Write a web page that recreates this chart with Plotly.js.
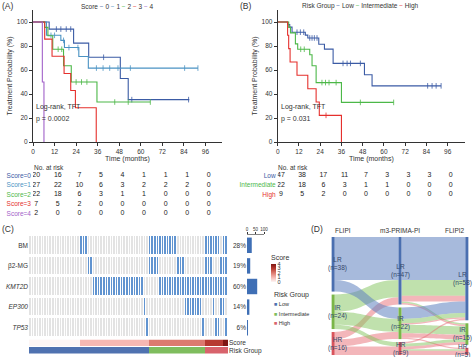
<!DOCTYPE html>
<html><head><meta charset="utf-8">
<script src="https://cdn.plot.ly/plotly-3.0.1.min.js"></script>
<style>html,body{margin:0;padding:0;background:#fff}#chart{width:474px;height:357px}</style>
</head><body><div id="chart"></div>
<script>
const W=474,H=357;
const px=v=>v/W, py=v=>1-v/H;
const FONT='Liberation Sans, Arial, sans-serif';
const TXT='#333';

// ---------- Panel A : KM by score ----------
const scoreGroups=['0','1','2','3','4'];
const scoreColors=['#3b5ba5','#4b93c3','#4cb848','#e5302d','#a262c9'];
const kmA_time=[
 [0,9,22.6,31,48.6,53,87],
 [0,7.5,15.5,17.5,25.5,30.8,91.8],
 [0,6.5,8.3,11,17,21.3,35.6,65.3],
 [0,6.5,10.6,17.3,21,23.6,35.2],
 [0,5.2,6.1]];
const kmA_surv=[
 [100,94.1,82.4,70.6,52.9,35.3,35.3],
 [100,88.9,84.7,78.7,71.2,61.6,61.6],
 [100,95.5,88.6,77.3,63.6,50,33.3,33.3],
 [100,85.7,71.4,57.1,42.9,28.6,0],
 [100,50,0]];
const kmA_cens=[
 [13,15.5,18.5,21,39.3,55,86.6],
 [10,12,17,20,25,35.3,39,42.7,47.3,54.2,84.4,91.8],
 [14,16,24,27,30,45.5,53,65.3],
 [],[]];
const atRiskTimes=[0,12,24,36,48,60,72,84,96];
const atRiskA=[[20,16,7,5,4,1,1,1,0],[27,22,10,6,3,2,2,2,0],[22,18,6,3,1,1,0,0,0],[7,5,2,0,0,0,0,0,0],[2,0,0,0,0,0,0,0,0]];

// ---------- Panel B : KM by risk group ----------
const riskGroups=['Low','Intermediate','High'];
const riskColors=['#3b5ba5','#4cb848','#e5302d'];
const kmB_time=[
 [0,5.6,6.8,8.1,15.6,17,23.2,26.4,31.3,49,53.3,92.3],
 [0,6.2,7.2,10,11.3,18.1,19.4,21.7,36,65.5],
 [0,5.6,6.2,7,10.9,17,21.7,23.5,36]];
const kmB_surv=[
 [100,97.9,95.7,91.5,89.1,86.7,81.5,77.4,65.5,56.1,46.8,46.8],
 [100,95.5,90.9,81.8,77.3,72.7,63.6,49.5,33,33],
 [100,88.9,77.8,66.7,55.6,44.4,33.3,22.2,0]];
const kmB_cens=[
 [10.9,12.8,14.7,18.1,19.4,20.7,22.2,36.9,39.2,41.1,46.7,84.7,87.2,89.5,92.3],
 [13,15,25,27,29,33,46.7,65.5],
 [27.3]];
const atRiskB=[[47,38,17,11,7,3,3,3,0],[22,18,6,3,1,1,0,0,0],[9,5,2,0,0,0,0,0,0]];

// ---------- Panel C : oncoprint ----------
const genes=['BM','β2-MG','KMT2D','EP300','TP53'];
const geneItalic=[false,false,true,true,true];
const nPatients=78;
const mutBM=[20,21,22,47,48,49,50,51,52,53,54,55,56,57,69,70,71,72,73,74,76,77];
const mutB2MG=[23,24,47,48,49,50,58,59,60,69,70,71,75,76,77];
const mutKMT2D=[25,26,27,28,29,30,31,32,33,34,35,36,37,38,39,40,41,42,43,44,51,52,53,54,55,56,57,58,59,60,61,62,63,64,65,66,67,68,69,70,71,72,73,74,75,76,77];
const mutEP300=[45,61,62,63,64,65,66,67,72,75,76];
const mutTP53=[46,68,73,74,77];
const scoreColorscale=[[0,'#fdf6f5'],[0.25,'#f5b8b3'],[0.5,'#dc7a6f'],[0.75,'#b73a31'],[1,'#7f1611']];
const riskBarColors=['#4f72b0','#7fbd5e','#d8636c'];
const riskOfScore=[0,0,1,2,2];

// ---------- Panel D : alluvial ----------
const stages=['FLIPI','m3-PRIMA-PI','FLIPI2'];
const levels=['LR','IR','HR'];
const levelNode=['#4a6fb0','#7ab648','#d9545c'];
const levelFlow=['rgba(95,130,192,0.55)','rgba(130,196,92,0.5)','rgba(232,110,118,0.5)'];
const pathFLIPI =['LR','IR','IR','HR','HR','LR','IR','IR','HR','HR','HR','IR','IR','HR','HR','HR'];
const pathM3    =['LR','LR','LR','LR','LR','IR','IR','IR','IR','IR','IR','HR','HR','HR','HR','HR'];
const pathFLIPI2=['LR','LR','IR','LR','IR','LR','LR','IR','LR','IR','HR','IR','HR','LR','IR','HR'];
const pathN     =[30,11,1,4,1,8,3,6,1,3,1,2,1,1,2,3];

// ================= build =================
const traces=[], annotations=[];
function survAt(t,s,x){let v=s[0];for(let i=0;i<t.length;i++){if(t[i]<=x)v=s[i];}return v;}
function addKM(times,survs,cens,colors,xa,ya){
  times.forEach((t,i)=>{
    traces.push({type:'scatter',mode:'lines',x:t,y:survs[i],xaxis:xa,yaxis:ya,
      line:{shape:'hv',color:colors[i],width:1.1},hoverinfo:'skip'});
    if(cens[i].length) traces.push({type:'scatter',mode:'markers',x:cens[i],
      y:cens[i].map(c=>survAt(t,survs[i],c)),xaxis:xa,yaxis:ya,
      marker:{symbol:'line-ns-open',size:4,color:colors[i],line:{width:0.8,color:colors[i]}},hoverinfo:'skip'});
  });
}
addKM(kmA_time,kmA_surv,kmA_cens,scoreColors,'x','y');
addKM(kmB_time,kmB_surv,kmB_cens,riskColors,'x2','y2');

function addTable(rows,xa,ya){
  rows.forEach((r,i)=>traces.push({type:'scatter',mode:'text',x:atRiskTimes,y:atRiskTimes.map(()=>i),
    text:r.map(String),textfont:{size:7,color:'#222',family:FONT},xaxis:xa,yaxis:ya,hoverinfo:'skip'}));
}
addTable(atRiskA,'x5','y5');
addTable(atRiskB,'x6','y6');

// oncoprint
const muts=[mutBM,mutB2MG,mutKMT2D,mutEP300,mutTP53];
const zMut=muts.map(m=>{const r=new Array(nPatients).fill(0);m.forEach(j=>r[j]=1);return r;});
const scores=[];for(let j=0;j<nPatients;j++){scores.push(zMut.reduce((a,r)=>a+r[j],0));}
const risks=scores.map(s=>riskOfScore[s]);
const cols=[...Array(nPatients).keys()];
traces.push({type:'heatmap',z:zMut,x:cols,y:[0,1,2,3,4],xaxis:'x3',yaxis:'y3',zmin:0,zmax:1,
  colorscale:[[0,'#e3e3e3'],[1,'#6194d0']],showscale:false,xgap:1,ygap:3,hoverinfo:'skip'});
traces.push({type:'heatmap',z:[scores],x:cols,y:[0],xaxis:'x3',yaxis:'y4',zmin:0,zmax:4,
  colorscale:scoreColorscale,hoverinfo:'skip',showscale:true,
  colorbar:{x:px(271),xanchor:'left',y:py(252),yanchor:'top',len:30,lenmode:'pixels',thickness:5,
   thicknessmode:'pixels',outlinewidth:0,xpad:0,ypad:0,tickvals:[0,1,2,3,4],ticks:'',
   tickfont:{size:5.5,color:TXT,family:FONT},title:{text:'Score',side:'top',font:{size:7,color:TXT,family:FONT}}}});
traces.push({type:'heatmap',z:[risks],x:cols,y:[0],xaxis:'x3',yaxis:'y8',zmin:0,zmax:2,
  colorscale:[[0,riskBarColors[0]],[0.333,riskBarColors[0]],[0.334,riskBarColors[1]],[0.666,riskBarColors[1]],[0.667,riskBarColors[2]],[1,riskBarColors[2]]],
  showscale:false,hoverinfo:'skip'});
const pct=muts.map(m=>Math.round(m.length/nPatients*100));
traces.push({type:'bar',orientation:'h',x:pct,y:[0,1,2,3,4],xaxis:'x4',yaxis:'y7',
  marker:{color:'#3f6fb5'},width:0.75,hoverinfo:'skip'});

// alluvial
const nodeIdx=(st,lv)=>st*3+levels.indexOf(lv);
const linkMap={};
pathN.forEach((n,k)=>{
  const k1=nodeIdx(0,pathFLIPI[k])+'_'+nodeIdx(1,pathM3[k])+'_'+pathFLIPI[k];
  const k2=nodeIdx(1,pathM3[k])+'_'+nodeIdx(2,pathFLIPI2[k])+'_'+pathFLIPI[k];
  linkMap[k1]=(linkMap[k1]||0)+n; linkMap[k2]=(linkMap[k2]||0)+n;
});
const ls=[],lt=[],lv=[],lc=[];
Object.keys(linkMap).forEach(k=>{const [s,t,g]=k.split('_');ls.push(+s);lt.push(+t);lv.push(linkMap[k]);lc.push(levelFlow[levels.indexOf(g)]);});
const stageCounts=[pathFLIPI,pathM3,pathFLIPI2].map(arr=>levels.map(l=>arr.reduce((a,v,k)=>a+(v===l?pathN[k]:0),0)));
const sTop=237,sBot=355,sLeft=333,sRight=467,sPad=3;
const sH=sBot-sTop, total=pathN.reduce((a,b)=>a+b,0), ky=(sH-2*sPad)/total;
const nodeX=[],nodeY=[],nodeC=[];
const stageX=[0.001,0.5,0.999];
const labelX=[337,400,462];
stageCounts.forEach((cnts,st)=>{let acc=0;cnts.forEach((c,i)=>{
  const center=acc*ky+i*sPad+c*ky/2; acc+=c;
  nodeX.push(stageX[st]);nodeY.push(center/sH);nodeC.push(levelNode[i]);
  annotations.push({xref:'paper',yref:'paper',x:px(labelX[st]),y:py(sTop+center),
    text:levels[i]+'<br>(n='+c+')',showarrow:false,font:{size:6.5,color:'#34466a',family:FONT},xanchor:'center',yanchor:'middle'});
});});
traces.push({type:'sankey',arrangement:'fixed',domain:{x:[px(sLeft),px(sRight)],y:[py(sBot),py(sTop)]},
  node:{label:nodeX.map(()=>''),x:nodeX,y:nodeY,color:nodeC,thickness:3,pad:sPad,line:{width:0}},
  link:{source:ls,target:lt,value:lv,color:lc,hoverinfo:'none'},hoverinfo:'none'});
stages.forEach((s,i)=>annotations.push({xref:'paper',yref:'paper',x:px(sLeft+stageX[i]*(sRight-sLeft)),y:py(230),
  text:s,showarrow:false,font:{size:6.5,color:TXT,family:FONT},xanchor:i===0?'left':(i===2?'right':'center'),yanchor:'middle'}));

// ---------- annotations ----------
const ann=(x,y,text,o={})=>annotations.push(Object.assign({xref:'paper',yref:'paper',x:px(x),y:py(y),text,showarrow:false,
  font:{size:7,color:TXT,family:FONT},xanchor:'left',yanchor:'middle'},o));
ann(0,6,'(A)',{font:{size:8.5,color:TXT,family:FONT}});
ann(238,6,'(B)',{font:{size:8.5,color:TXT,family:FONT}});
ann(0,229,'(C)',{font:{size:8.5,color:TXT,family:FONT}});
ann(309,229,'(D)',{font:{size:8.5,color:TXT,family:FONT}});
ann(117,6,'Score '+scoreGroups.map((g,i)=>`<span style="color:${scoreColors[i]}">−</span> ${g}`).join(' '),{xanchor:'center',font:{size:6.5,color:TXT,family:FONT}});
ann(360,6,'Risk Group '+riskGroups.map((g,i)=>`<span style="color:${riskColors[i]}">−</span> ${g}`).join(' '),{xanchor:'center',font:{size:6.5,color:TXT,family:FONT}});
ann(32,167,'No. at risk',{font:{size:6.5,color:TXT,family:FONT}});
ann(276,167,'No. at risk',{font:{size:6.5,color:TXT,family:FONT}});
[['x','y','0.0002'],['x2','y2','0.031']].forEach(([xa,ya,p])=>{
  annotations.push({xref:xa,yref:ya,x:0.5,y:29,text:'Log-rank, TFT',showarrow:false,xanchor:'left',font:{size:7,color:TXT,family:FONT}});
  annotations.push({xref:xa,yref:ya,x:0.5,y:19,text:'p = '+p,showarrow:false,xanchor:'left',font:{size:7,color:TXT,family:FONT}});
});
ann(272,295,'Risk Group',{font:{size:7,color:TXT,family:FONT}});
riskGroups.forEach((g,i)=>ann(272,304+i*9.5,`<span style="color:${riskBarColors[i]}">■</span> ${g}`,{font:{size:5.5,color:TXT,family:FONT}}));

// ---------- layout ----------
const tf={size:6.5,color:TXT,family:FONT};
const kmX=(d0,d1,r)=>({domain:[px(d0),px(d1)],range:[0,r],tickvals:atRiskTimes,ticks:'outside',ticklen:3,tickcolor:TXT,
  showline:true,linecolor:TXT,linewidth:1,showgrid:false,zeroline:false,tickfont:tf,
  title:{text:'Time (months)',font:{size:7,color:TXT,family:FONT},standoff:1}});
const kmY=()=>({domain:[py(142),py(10)],range:[0,110],tickvals:[0,20,40,60,80,100],ticks:'outside',ticklen:3,tickcolor:TXT,
  showline:true,linecolor:TXT,linewidth:1,showgrid:false,zeroline:false,tickfont:tf,
  title:{text:'Treatment Probability (%)',font:{size:7,color:TXT,family:FONT},standoff:3}});
const tblY=(n,labels,colors,d0)=>({domain:[py(d0+n*9.4),py(d0)],range:[n-0.5,-0.5],tickvals:[...Array(n).keys()],
  ticktext:labels.map((l,i)=>`<span style="color:${colors[i]}">${l}</span>`),showline:false,showgrid:false,zeroline:false,ticks:'',
  tickfont:tf,ticklabelstandoff:1});
const layout={
  width:W,height:H,margin:{l:0,r:0,t:0,b:0,autoexpand:false},paper_bgcolor:'#fff',plot_bgcolor:'#fff',showlegend:false,
  font:{family:FONT,color:TXT},
  xaxis:Object.assign(kmX(33,222,105.2),{anchor:'y'}),
  yaxis:Object.assign(kmY(),{anchor:'x'}),
  xaxis2:Object.assign(kmX(277.7,465,105.8),{anchor:'y2'}),
  yaxis2:Object.assign(kmY(),{anchor:'x2'}),
  xaxis5:{domain:[px(33),px(222)],range:[-1.8,103.4],visible:false,anchor:'y5'},
  yaxis5:Object.assign(tblY(5,scoreGroups.map(g=>'Score='+g),scoreColors,171),{anchor:'x5'}),
  xaxis6:{domain:[px(277.7),px(465)],range:[-1.8,104],visible:false,anchor:'y6'},
  yaxis6:Object.assign(tblY(3,riskGroups,riskColors,171),{anchor:'x6'}),
  xaxis3:{domain:[px(29),px(228)],range:[-0.5,nPatients-0.5],visible:false,anchor:'y3'},
  yaxis3:{domain:[py(338),py(235)],range:[4.5,-0.5],tickvals:[0,1,2,3,4],ticktext:genes.map((g,i)=>geneItalic[i]?'<i>'+g+'</i>':g),
    showgrid:false,zeroline:false,showline:false,ticks:'',tickfont:tf,anchor:'x3'},
  yaxis4:{domain:[py(346),py(339.5)],range:[-0.5,0.5],tickvals:[0],ticktext:['Score'],side:'right',anchor:'x3',
    showgrid:false,zeroline:false,showline:false,ticks:'',tickfont:tf},
  yaxis8:{domain:[py(353.5),py(347)],range:[-0.5,0.5],tickvals:[0],ticktext:['Risk Group'],side:'right',anchor:'x3',
    showgrid:false,zeroline:false,showline:false,ticks:'',tickfont:tf},
  xaxis4:{domain:[px(247),px(264)],range:[0,100],side:'top',tickvals:[0,50,100],tickangle:0,ticks:'outside',ticklen:2,tickcolor:TXT,
    showline:true,linecolor:TXT,linewidth:0.6,showgrid:false,zeroline:false,tickfont:{size:4.5,color:TXT,family:FONT},anchor:'y7'},
  yaxis7:{domain:[py(338),py(235)],range:[4.5,-0.5],tickvals:[0,1,2,3,4],ticktext:pct.map(p=>p+'%'),
    showgrid:false,zeroline:false,showline:false,ticks:'',tickfont:tf,anchor:'x4'},
  annotations
};
Plotly.newPlot('chart',traces,layout,{staticPlot:true,displayModeBar:false});
</script></body></html>
